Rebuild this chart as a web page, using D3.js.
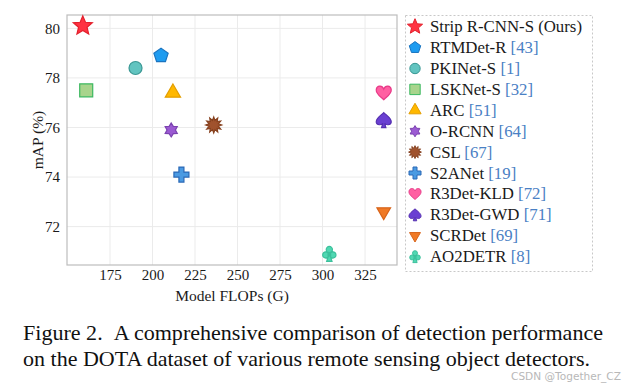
<!DOCTYPE html>
<html>
<head>
<meta charset="utf-8">
<script src="https://cdn.jsdelivr.net/npm/d3@7"></script>
<style>
	body { margin: 0; background: #fff; }
	svg { display: block; font-family: "Liberation Serif", "Times New Roman", serif; }
</style>
</head>
<body>
<div id="chart"></div>
<script>
// detector names, their citation refs, FLOPs (G) and mAP (%)
var methods = ["Strip R-CNN-S (Ours)", "RTMDet-R", "PKINet-S", "LSKNet-S", "ARC", "O-RCNN",
               "CSL", "S2ANet", "R3Det-KLD", "R3Det-GWD", "SCRDet", "AO2DETR"];
var refs = [null, 43, 1, 32, 51, 64, 67, 19, 72, 71, 69, 8];
var flops = [159, 205, 190, 161, 212, 211, 236, 217, 336, 336, 336, 304];
var maps = [80.1, 78.9, 78.4, 77.5, 77.4, 75.9, 76.1, 74.1, 77.4, 76.3, 72.6, 70.9];
var xTicks = [175, 200, 225, 250, 275, 300, 325];
var yTicks = [72, 74, 76, 78, 80];

// marker look per method (same order as above)
var markerStyle = [
	{shape: "star",     fill: "#ff3342", stroke: "#e3202c", r: 10},
	{shape: "pentagon", fill: "#1e9cf0", stroke: "#1a74c0", r: 7.5},
	{shape: "circle",   fill: "#62c4c0", stroke: "#3a9894", r: 6.5},
	{shape: "square",   fill: "#a8d48c", stroke: "#3cb860", r: 6.5},
	{shape: "triangle", fill: "#ffb800", stroke: "#e39e00", r: 8},
	{shape: "hexagram", fill: "#9b5ad2", stroke: "#7b42b0", r: 7},
	{shape: "burst",    fill: "#a0522d", stroke: "#86401e", r: 8},
	{shape: "cross",    fill: "#4a9ae2", stroke: "#2a68b6", r: 7.5},
	{shape: "heart",    fill: "#ff5fa2", stroke: "#e83a88", r: 7.5},
	{shape: "spade",    fill: "#6a40d2", stroke: "#5530b0", r: 7.5},
	{shape: "invtri",   fill: "#f07a26", stroke: "#d8641a", r: 7.5},
	{shape: "club",     fill: "#50d8b2", stroke: "#3cc09c", r: 7.5}
];

var width = 624, height = 386;
var plot = {left: 67, right: 397, top: 15, bottom: 265};

var svg = d3.select("#chart").append("svg")
	.attr("width", width)
	.attr("height", height);

var x = d3.scaleLinear().domain([149.7, 343.8]).range([plot.left, plot.right]);
var y = d3.scaleLinear().domain([70.45, 80.54]).range([plot.bottom, plot.top]);

/**
 * Star-like polygon path with alternating outer / inner radius.
 */
function starPath(n, r, inner, rot)
{
	var p = d3.path();
	for (var i = 0; i < n * 2; i++) {
		var a = (rot || -Math.PI / 2) + i * Math.PI / n;
		var rr = (i % 2 === 0) ? r : r * inner;
		if (i === 0) p.moveTo(rr * Math.cos(a), rr * Math.sin(a));
		else p.lineTo(rr * Math.cos(a), rr * Math.sin(a));
	}
	p.closePath();
	return p.toString();
}

function polyPath(n, r, rot)
{
	var p = d3.path();
	for (var i = 0; i < n; i++) {
		var a = rot + i * 2 * Math.PI / n;
		if (i === 0) p.moveTo(r * Math.cos(a), r * Math.sin(a));
		else p.lineTo(r * Math.cos(a), r * Math.sin(a));
	}
	p.closePath();
	return p.toString();
}

function heartPath(r)
{
	var s = r / 7;
	return "M0," + (6.5 * s) +
		" C" + (-3 * s) + "," + (3.5 * s) + " " + (-7.5 * s) + "," + (1 * s) + " " + (-7 * s) + "," + (-3 * s) +
		" C" + (-6.5 * s) + "," + (-7 * s) + " " + (-1.5 * s) + "," + (-7.5 * s) + " 0," + (-3.5 * s) +
		" C" + (1.5 * s) + "," + (-7.5 * s) + " " + (6.5 * s) + "," + (-7 * s) + " " + (7 * s) + "," + (-3 * s) +
		" C" + (7.5 * s) + "," + (1 * s) + " " + (3 * s) + "," + (3.5 * s) + " 0," + (6.5 * s) + " Z";
}

function spadePath(r)
{
	var s = r / 7;
	return "M0," + (-7 * s) +
		" C" + (3 * s) + "," + (-4 * s) + " " + (7.5 * s) + "," + (-1.5 * s) + " " + (7 * s) + "," + (2 * s) +
		" C" + (6.5 * s) + "," + (5 * s) + " " + (2 * s) + "," + (5 * s) + " " + (0.8 * s) + "," + (3 * s) +
		" L" + (2 * s) + "," + (7 * s) + " L" + (-2 * s) + "," + (7 * s) + " L" + (-0.8 * s) + "," + (3 * s) +
		" C" + (-2 * s) + "," + (5 * s) + " " + (-6.5 * s) + "," + (5 * s) + " " + (-7 * s) + "," + (2 * s) +
		" C" + (-7.5 * s) + "," + (-1.5 * s) + " " + (-3 * s) + "," + (-4 * s) + " 0," + (-7 * s) + " Z";
}

function clubPath(r)
{
	var s = r / 7, c = 2.9 * s;
	var p = d3.path();
	p.moveTo(c, -4 * s); p.arc(0, -4 * s, c, 0, 2 * Math.PI);
	p.moveTo(-3.3 * s + c, 1 * s); p.arc(-3.3 * s, 1 * s, c, 0, 2 * Math.PI);
	p.moveTo(3.3 * s + c, 1 * s); p.arc(3.3 * s, 1 * s, c, 0, 2 * Math.PI);
	p.moveTo(-1.2 * s, -1 * s); p.lineTo(1.2 * s, -1 * s);
	p.lineTo(1.2 * s, 3 * s); p.lineTo(2.5 * s, 7 * s); p.lineTo(-2.5 * s, 7 * s);
	p.lineTo(-1.2 * s, 3 * s); p.closePath();
	return p.toString();
}

function markerPath(shape, r)
{
	switch (shape) {
		case "star":     return starPath(5, r, 0.45);
		case "pentagon": return polyPath(5, r, -Math.PI / 2);
		case "circle":   return d3.symbol(d3.symbolCircle, Math.PI * r * r)();
		case "square":   return d3.symbol(d3.symbolSquare, 4 * r * r)();
		case "triangle": return polyPath(3, r * 1.1, -Math.PI / 2);
		case "invtri":   return polyPath(3, r * 1.05, Math.PI / 2);
		case "hexagram": return starPath(6, r, 0.6);
		case "burst":    return starPath(12, r, 0.6);
		case "cross":    return d3.symbol(d3.symbolCross, (r * 2) * (r * 2) * 5 / 9)();
		case "heart":    return heartPath(r);
		case "spade":    return spadePath(r);
		case "club":     return clubPath(r);
	}
}

// grid
svg.append("g").selectAll("line.vg").data(xTicks).join("line")
	.attr("x1", function(d) { return x(d); }).attr("x2", function(d) { return x(d); })
	.attr("y1", plot.top).attr("y2", plot.bottom)
	.attr("stroke", "#ebebeb").attr("stroke-width", 1);
svg.append("g").selectAll("line.hg").data(yTicks).join("line")
	.attr("y1", function(d) { return y(d); }).attr("y2", function(d) { return y(d); })
	.attr("x1", plot.left).attr("x2", plot.right)
	.attr("stroke", "#ebebeb").attr("stroke-width", 1);

// axes (labels only, no tick marks)
var xAxis = svg.append("g")
	.attr("transform", "translate(0," + plot.bottom + ")")
	.call(d3.axisBottom(x).tickValues(xTicks).tickSize(0).tickPadding(4));
var yAxis = svg.append("g")
	.attr("transform", "translate(" + plot.left + ",0)")
	.call(d3.axisLeft(y).tickValues(yTicks).tickSize(0).tickPadding(7));
[xAxis, yAxis].forEach(function(g) {
	g.select(".domain").remove();
	g.selectAll("text")
		.style("font-family", "Liberation Serif")
		.style("font-size", "15px")
		.attr("fill", "#1a1a1a");
});

// plot frame
svg.append("rect")
	.attr("x", plot.left).attr("y", plot.top)
	.attr("width", plot.right - plot.left).attr("height", plot.bottom - plot.top)
	.attr("fill", "none").attr("stroke", "#bdbdbd").attr("stroke-width", 1.2);

// axis titles
svg.append("text")
	.attr("x", (plot.left + plot.right) / 2).attr("y", 301)
	.attr("text-anchor", "middle")
	.style("font-size", "15.5px").attr("fill", "#1a1a1a")
	.text("Model FLOPs (G)");
svg.append("text")
	.attr("transform", "translate(43," + ((plot.top + plot.bottom) / 2) + ") rotate(-90)")
	.attr("text-anchor", "middle")
	.style("font-size", "15.5px").attr("fill", "#1a1a1a")
	.text("mAP (%)");

// points
svg.append("g").selectAll("path").data(methods).join("path")
	.attr("transform", function(d, i) { return "translate(" + x(flops[i]) + "," + y(maps[i]) + ")"; })
	.attr("d", function(d, i) { return markerPath(markerStyle[i].shape, markerStyle[i].r); })
	.attr("fill", function(d, i) { return markerStyle[i].fill; })
	.attr("stroke", function(d, i) { return markerStyle[i].stroke; })
	.attr("stroke-width", 1.2);

// legend
var leg = {x: 405, y: 15, w: 187, h: 256, first: 26.7, step: 20.9};
svg.append("rect")
	.attr("x", leg.x + 0.5).attr("y", leg.y + 0.5)
	.attr("width", leg.w).attr("height", leg.h)
	.attr("fill", "#fff").attr("stroke", "#c8c8c8")
	.attr("stroke-dasharray", "2,2").attr("stroke-width", 1);

var items = svg.append("g").selectAll("g").data(methods).join("g")
	.attr("transform", function(d, i) { return "translate(0," + (leg.first + i * leg.step) + ")"; });

items.append("path")
	.attr("transform", "translate(415,0)")
	.attr("d", function(d, i) { return markerPath(markerStyle[i].shape, markerStyle[i].r * 0.8); })
	.attr("fill", function(d, i) { return markerStyle[i].fill; })
	.attr("stroke", function(d, i) { return markerStyle[i].stroke; })
	.attr("stroke-width", 1);

var labels = items.append("text")
	.attr("x", 430).attr("y", 5.5)
	.style("font-size", "16.8px").attr("fill", "#1a1a1a");
labels.append("tspan").text(function(d) { return d; });
labels.filter(function(d, i) { return refs[i] !== null; })
	.append("tspan").attr("fill", "#4a80c4")
	.text(function(d) { return " [" + refs[methods.indexOf(d)] + "]"; });

// caption
var caption = ["Figure 2.\u2002A comprehensive comparison of detection performance",
               "on the DOTA dataset of various remote sensing object detectors."];
var captionWidth = [580, 567];
svg.append("g").selectAll("text").data(caption).join("text")
	.attr("x", 23).attr("y", function(d, i) { return 340 + i * 25.5; })
	.attr("textLength", function(d, i) { return captionWidth[i]; })
	.attr("lengthAdjust", "spacingAndGlyphs")
	.style("font-size", "22px").attr("fill", "#111")
	.text(function(d) { return d; });

// watermark
svg.append("text")
	.attr("x", 621).attr("y", 380).attr("text-anchor", "end")
	.attr("textLength", 110).attr("lengthAdjust", "spacingAndGlyphs")
	.style("font-family", "DejaVu Sans").style("font-size", "10.5px")
	.attr("fill", "#b8b8b8")
	.text("CSDN @Together_CZ");
</script>
</body>
</html>
